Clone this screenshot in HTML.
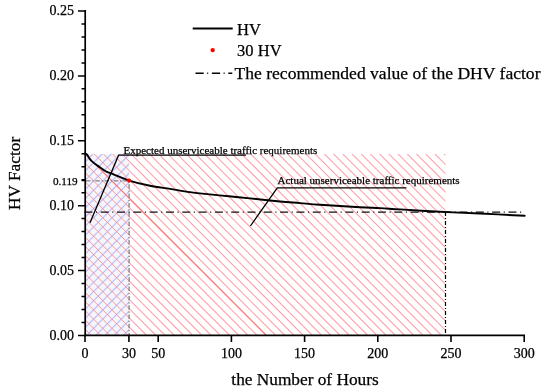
<!DOCTYPE html><html><head><meta charset="utf-8"><style>html,body{margin:0;padding:0;background:#fff;}svg{display:block;}text{font-family:"Liberation Serif",serif;fill:#000;stroke:#000;stroke-width:0.25px;}</style></head><body>
<svg width="550" height="391" viewBox="0 0 550 391">
<defs><clipPath id="cA"><rect x="86" y="153.80" width="359.50" height="181.20"/></clipPath>
<clipPath id="cC"><rect x="129.10" y="153.80" width="316.40" height="181.20"/></clipPath>
<clipPath id="cB"><rect x="86" y="153.80" width="43.10" height="181.20"/></clipPath></defs>
<rect x="86" y="153.80" width="43.10" height="181.20" fill="#f5f5fc"/>
<path clip-path="url(#cB)" d="M74.74,153.80L-106.46,335.00 M83.95,153.80L-97.25,335.00 M93.16,153.80L-88.04,335.00 M102.37,153.80L-78.83,335.00 M111.58,153.80L-69.62,335.00 M120.79,153.80L-60.41,335.00 M130.00,153.80L-51.20,335.00 M139.21,153.80L-41.99,335.00 M148.42,153.80L-32.78,335.00 M157.63,153.80L-23.57,335.00 M166.84,153.80L-14.36,335.00 M176.05,153.80L-5.15,335.00 M185.26,153.80L4.06,335.00 M194.47,153.80L13.27,335.00 M203.68,153.80L22.48,335.00 M212.89,153.80L31.69,335.00 M222.10,153.80L40.90,335.00 M231.31,153.80L50.11,335.00 M240.52,153.80L59.32,335.00 M249.73,153.80L68.53,335.00 M258.94,153.80L77.74,335.00 M268.15,153.80L86.95,335.00 M277.36,153.80L96.16,335.00 M286.57,153.80L105.37,335.00 M295.78,153.80L114.58,335.00 M304.99,153.80L123.79,335.00 M314.20,153.80L133.00,335.00 M323.41,153.80L142.21,335.00" stroke="#c2c2fc" stroke-width="1.30" fill="none"/>
<path clip-path="url(#cC)" d="M-62.52,153.80L118.68,335.00 M-53.31,153.80L127.89,335.00 M-44.10,153.80L137.10,335.00 M-34.89,153.80L146.31,335.00 M-25.68,153.80L155.52,335.00 M-16.47,153.80L164.73,335.00 M-7.26,153.80L173.94,335.00 M1.95,153.80L183.15,335.00 M11.16,153.80L192.36,335.00 M20.37,153.80L201.57,335.00 M29.58,153.80L210.78,335.00 M38.79,153.80L219.99,335.00 M48.00,153.80L229.20,335.00 M57.21,153.80L238.41,335.00 M66.42,153.80L247.62,335.00 M75.63,153.80L256.83,335.00 M84.84,153.80L266.04,335.00 M94.05,153.80L275.25,335.00 M103.26,153.80L284.46,335.00 M112.47,153.80L293.67,335.00 M121.68,153.80L302.88,335.00 M130.89,153.80L312.09,335.00 M140.10,153.80L321.30,335.00 M149.31,153.80L330.51,335.00 M158.52,153.80L339.72,335.00 M167.73,153.80L348.93,335.00 M176.94,153.80L358.14,335.00 M186.15,153.80L367.35,335.00 M195.36,153.80L376.56,335.00 M204.57,153.80L385.77,335.00 M213.78,153.80L394.98,335.00 M222.99,153.80L404.19,335.00 M232.20,153.80L413.40,335.00 M241.41,153.80L422.61,335.00 M250.62,153.80L431.82,335.00 M259.83,153.80L441.03,335.00 M269.04,153.80L450.24,335.00 M278.25,153.80L459.45,335.00 M287.46,153.80L468.66,335.00 M296.67,153.80L477.87,335.00 M305.88,153.80L487.08,335.00 M315.09,153.80L496.29,335.00 M324.30,153.80L505.50,335.00 M333.51,153.80L514.71,335.00 M342.72,153.80L523.92,335.00 M351.93,153.80L533.13,335.00 M361.14,153.80L542.34,335.00 M370.35,153.80L551.55,335.00 M379.56,153.80L560.76,335.00 M388.77,153.80L569.97,335.00 M397.98,153.80L579.18,335.00 M407.19,153.80L588.39,335.00 M416.40,153.80L597.60,335.00 M425.61,153.80L606.81,335.00 M434.82,153.80L616.02,335.00 M444.03,153.80L625.23,335.00 M453.24,153.80L634.44,335.00 M462.45,153.80L643.65,335.00" stroke="#ffa2aa" stroke-width="1.10" fill="none"/>
<path clip-path="url(#cB)" d="M-108.59,153.80L72.61,335.00 M-99.38,153.80L81.82,335.00 M-90.17,153.80L91.03,335.00 M-80.96,153.80L100.24,335.00 M-71.75,153.80L109.45,335.00 M-62.54,153.80L118.66,335.00 M-53.33,153.80L127.87,335.00 M-44.12,153.80L137.08,335.00 M-34.91,153.80L146.29,335.00 M-25.70,153.80L155.50,335.00 M-16.49,153.80L164.71,335.00 M-7.28,153.80L173.92,335.00 M1.93,153.80L183.13,335.00 M11.14,153.80L192.34,335.00 M20.35,153.80L201.55,335.00 M29.56,153.80L210.76,335.00 M38.77,153.80L219.97,335.00 M47.98,153.80L229.18,335.00 M57.19,153.80L238.39,335.00 M66.40,153.80L247.60,335.00 M75.61,153.80L256.81,335.00 M84.82,153.80L266.02,335.00 M94.03,153.80L275.23,335.00 M103.24,153.80L284.44,335.00 M112.45,153.80L293.65,335.00 M121.66,153.80L302.86,335.00 M130.87,153.80L312.07,335.00 M140.08,153.80L321.28,335.00" stroke="#ff9494" stroke-width="1.00" fill="none"/>
<path d="M85.6,154.6L265.8,334.8" stroke="#ff7474" stroke-width="1.2" fill="none"/>
<path d="M86,180.9H129.1V335" stroke="#808080" stroke-width="1.3" fill="none" stroke-dasharray="4.5,1.8,1.2,1.8"/>
<path d="M84.4,212.1H522" stroke="#111" stroke-width="1.35" fill="none" stroke-dasharray="8,3.55,1.1,3.66"/>
<path d="M445.5,212.1V335" stroke="#000" stroke-width="1.2" fill="none" stroke-dasharray="4,2,1,2"/>
<path d="M84.80,153.50 C85.18,153.68 86.33,153.78 87.10,154.60 C87.87,155.42 88.63,157.32 89.40,158.40 C90.17,159.48 90.68,160.13 91.70,161.10 C92.72,162.07 94.23,163.23 95.50,164.20 C96.77,165.17 98.02,166.00 99.30,166.90 C100.58,167.80 101.92,168.77 103.20,169.60 C104.48,170.43 105.72,171.27 107.00,171.90 C108.28,172.53 109.73,172.95 110.90,173.40 C112.07,173.85 110.97,173.40 114.00,174.60 C117.03,175.80 123.10,178.73 129.10,180.60 C135.10,182.47 143.18,184.42 150.00,185.80 C156.82,187.18 163.33,187.85 170.00,188.90 C176.67,189.95 183.33,191.18 190.00,192.10 C196.67,193.02 203.10,193.67 210.00,194.40 C216.90,195.13 224.73,195.83 231.40,196.50 C238.07,197.17 241.90,197.57 250.00,198.40 C258.10,199.23 271.67,200.72 280.00,201.50 C288.33,202.28 293.33,202.55 300.00,203.10 C306.67,203.65 310.00,204.12 320.00,204.80 C330.00,205.48 350.00,206.65 360.00,207.20 C370.00,207.75 373.33,207.73 380.00,208.10 C386.67,208.47 390.00,208.78 400.00,209.40 C410.00,210.02 426.67,211.12 440.00,211.80 C453.33,212.48 465.88,212.83 480.00,213.50 C494.12,214.17 517.25,215.42 524.70,215.80" stroke="#000" stroke-width="1.9" fill="none" stroke-linejoin="round" stroke-linecap="round"/>
<circle cx="129.1" cy="180.6" r="2.1" fill="#ff0000"/>
<path d="M85.2,10V336.2" stroke="#000" stroke-width="1.7" fill="none"/>
<path d="M84.4,335.4H525" stroke="#000" stroke-width="1.7" fill="none"/>
<path d="M78,335.40H85 M81.5,322.42H85 M81.5,309.45H85 M81.5,296.47H85 M81.5,283.50H85 M78,270.52H85 M81.5,257.54H85 M81.5,244.57H85 M81.5,231.59H85 M81.5,218.62H85 M78,205.64H85 M81.5,192.66H85 M81.5,179.69H85 M81.5,166.71H85 M81.5,153.74H85 M78,140.76H85 M81.5,127.78H85 M81.5,114.81H85 M81.5,101.83H85 M81.5,88.86H85 M78,75.88H85 M81.5,62.90H85 M81.5,49.93H85 M81.5,36.95H85 M81.5,23.98H85 M78,11.00H85 M81.5,180.5H85" stroke="#000" stroke-width="1.5" fill="none"/>
<path d="M85.00,335V342 M128.92,335V342 M158.20,335V342 M231.40,335V342 M304.60,335V342 M377.80,335V342 M451.00,335V342 M524.20,335V342" stroke="#000" stroke-width="1.6" fill="none"/>
<text x="74" y="15.30" font-size="14" text-anchor="end">0.25</text>
<text x="74" y="80.18" font-size="14" text-anchor="end">0.20</text>
<text x="74" y="145.06" font-size="14" text-anchor="end">0.15</text>
<text x="74" y="209.94" font-size="14" text-anchor="end">0.10</text>
<text x="74" y="274.82" font-size="14" text-anchor="end">0.05</text>
<text x="74" y="339.70" font-size="14" text-anchor="end">0.00</text>
<text x="77.7" y="184.5" font-size="11.2" text-anchor="end">0.119</text>
<text x="85.00" y="357.7" font-size="14" text-anchor="middle">0</text>
<text x="128.92" y="357.7" font-size="14" text-anchor="middle">30</text>
<text x="158.20" y="357.7" font-size="14" text-anchor="middle">50</text>
<text x="231.40" y="357.7" font-size="14" text-anchor="middle">100</text>
<text x="304.60" y="357.7" font-size="14" text-anchor="middle">150</text>
<text x="377.80" y="357.7" font-size="14" text-anchor="middle">200</text>
<text x="451.00" y="357.7" font-size="14" text-anchor="middle">250</text>
<text x="524.20" y="357.7" font-size="14" text-anchor="middle">300</text>
<text x="305" y="384.7" font-size="17.3" text-anchor="middle">the Number of Hours</text>
<text transform="translate(20.1,173.4) rotate(-90)" font-size="17.3" text-anchor="middle">HV Factor</text>
<path d="M192.7,28.6H232.7" stroke="#000" stroke-width="2"/>
<text x="237.1" y="34.7" font-size="16.5">HV</text>
<circle cx="212.7" cy="50.1" r="2.2" fill="#ff0000"/>
<text x="237.1" y="56" font-size="16.5">30 HV</text>
<path d="M195.5,73.2H232.3" stroke="#000" stroke-width="1.6" stroke-dasharray="8.2,3.5,1,3.7"/>
<text x="234.5" y="79.2" font-size="17.5" textLength="306" lengthAdjust="spacingAndGlyphs">The recommended value of the DHV factor</text>
<path d="M90,222.8L118.6,155.2H246" stroke="#000" stroke-width="1.3" fill="none"/>
<text x="123.5" y="153.7" font-size="11">Expected unserviceable traffic requirements</text>
<path d="M250.4,226L277.3,187.9H406.4" stroke="#000" stroke-width="1.3" fill="none"/>
<text x="277.5" y="184.4" font-size="11">Actual unserviceable traffic requirements</text>
</svg></body></html>
